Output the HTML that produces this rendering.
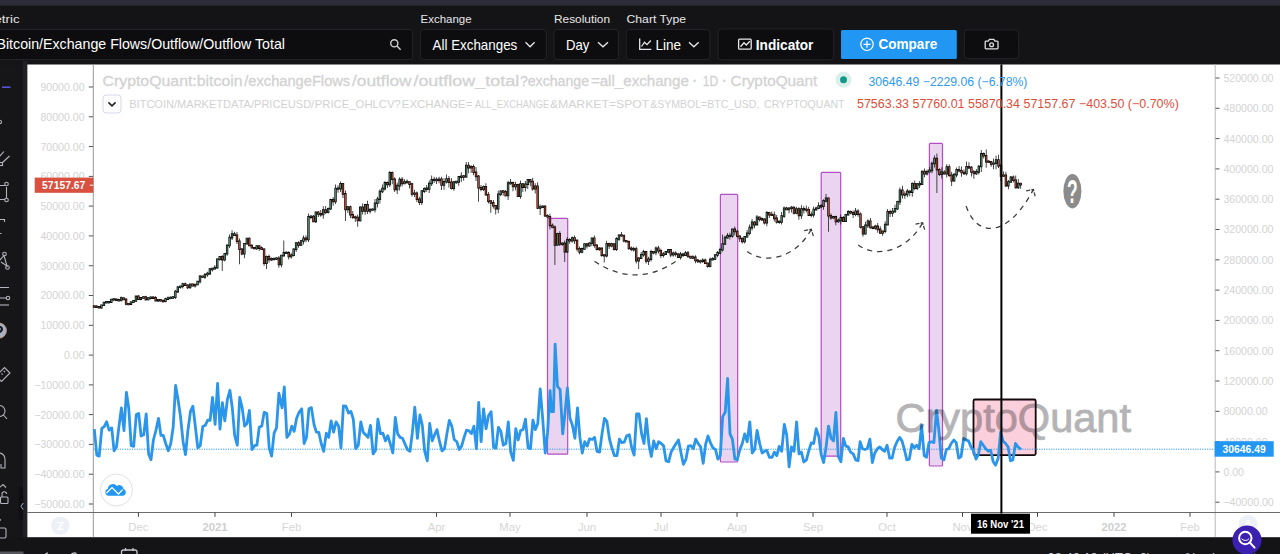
<!DOCTYPE html>
<html lang="en"><head><meta charset="utf-8"><title>CryptoQuant - Bitcoin Exchange Outflow Total</title>
<style>html,body{margin:0;padding:0;background:#141417;overflow:hidden}body{width:1280px;height:554px;font-family:"Liberation Sans", Arial, sans-serif}svg{display:block}</style>
</head><body>
<svg width="1280" height="554" viewBox="0 0 1280 554" font-family='"Liberation Sans", Arial, sans-serif'>
<rect x="0" y="0" width="1280" height="554" fill="#141417"/>
<rect x="0" y="0" width="1280" height="5.6" fill="#2c2d38"/>
<rect x="27.2" y="64.5" width="1253" height="473" fill="#ffffff"/>
<rect x="0" y="64.5" width="23" height="473" fill="#161618"/>
<rect x="23" y="61" width="4.2" height="493" fill="#202127"/>
<text x="-16.5" y="22.6" font-size="11.5" fill="#e6e6e8" textLength="36.0" lengthAdjust="spacingAndGlyphs" >Metric</text>
<text x="420.6" y="22.6" font-size="11.5" fill="#e6e6e8" textLength="51.0" lengthAdjust="spacingAndGlyphs" >Exchange</text>
<text x="554.0" y="22.6" font-size="11.5" fill="#e6e6e8" textLength="56.0" lengthAdjust="spacingAndGlyphs" >Resolution</text>
<text x="626.5" y="22.6" font-size="11.5" fill="#e6e6e8" textLength="59.5" lengthAdjust="spacingAndGlyphs" >Chart Type</text>
<rect x="-20" y="29.5" width="432.7" height="30.0" rx="3" fill="#0d0d10" stroke="#232329" stroke-width="1"/>
<rect x="420.4" y="29.5" width="125.89999999999998" height="30.0" rx="3" fill="#0d0d10" stroke="#232329" stroke-width="1"/>
<rect x="554" y="29.5" width="64.5" height="30.0" rx="3" fill="#0d0d10" stroke="#232329" stroke-width="1"/>
<rect x="626.2" y="29.5" width="83.69999999999993" height="30.0" rx="3" fill="#0d0d10" stroke="#232329" stroke-width="1"/>
<rect x="718" y="29" width="115.60000000000002" height="30.799999999999997" rx="3" fill="#0d0d10" stroke="#232329" stroke-width="1"/>
<rect x="841" y="30" width="115.8" height="29" rx="1.5" fill="#2196f3"/>
<rect x="964.3" y="30" width="54.40000000000009" height="28.6" rx="3" fill="#0d0d10" stroke="#232329" stroke-width="1"/>
<text x="-3.5" y="49.2" font-size="14.6" fill="#ffffff" textLength="288.5" lengthAdjust="spacingAndGlyphs" >Bitcoin/Exchange Flows/Outflow/Outflow Total</text>
<g stroke="#d0d0d4" stroke-width="1.4" fill="none"><circle cx="394.3" cy="43.3" r="3.6"/><path d="M397 46 L400.6 49.8"/></g>
<text x="432.6" y="49.6" font-size="15" fill="#ffffff" textLength="84.7" lengthAdjust="spacingAndGlyphs" >All Exchanges</text>
<path d="M525.5 42.2 L530.05 46.8 L534.6 42.2" stroke="#e8e8ea" stroke-width="1.3" fill="none"/>
<text x="565.9" y="49.6" font-size="15" fill="#ffffff" textLength="23.4" lengthAdjust="spacingAndGlyphs" >Day</text>
<path d="M598 42.2 L603.0 46.8 L608 42.2" stroke="#e8e8ea" stroke-width="1.3" fill="none"/>
<g stroke="#e8e8ea" stroke-width="1.3" fill="none"><path d="M639.7 38.5 V49.3 H651.3"/><path d="M641.5 46.5 L644.5 42.2 L647 44.6 L650.8 40.5"/></g>
<text x="655.4" y="49.6" font-size="15" fill="#ffffff" textLength="25.6" lengthAdjust="spacingAndGlyphs" >Line</text>
<path d="M689 42.2 L693.85 46.8 L698.7 42.2" stroke="#e8e8ea" stroke-width="1.3" fill="none"/>
<g stroke="#e8e8ea" stroke-width="1.3" fill="none"><rect x="738.6" y="39.2" width="12.6" height="10" rx="1"/><path d="M740.5 46.8 L744 42.8 L746.3 45 L749.8 41.2"/></g>
<text x="755.8" y="49.6" font-size="15" fill="#ffffff" font-weight="bold" textLength="57.6" lengthAdjust="spacingAndGlyphs" >Indicator</text>
<g stroke="#ffffff" stroke-width="1.2" fill="none"><circle cx="867" cy="44.3" r="6.2"/><path d="M863.5 44.3 H870.5 M867 40.8 V47.8"/></g>
<text x="878.5" y="49.4" font-size="15" fill="#ffffff" font-weight="bold" textLength="58.7" lengthAdjust="spacingAndGlyphs" >Compare</text>
<g stroke="#e0e0e4" stroke-width="1.3" fill="none"><path d="M986 41.2 h2.2 l1.2 -1.8 h4.4 l1.2 1.8 h2.2 a0.8 0.8 0 0 1 0.8 0.8 v6 a0.8 0.8 0 0 1 -0.8 0.8 h-11.2 a0.8 0.8 0 0 1 -0.8 -0.8 v-6 a0.8 0.8 0 0 1 0.8 -0.8 z"/><circle cx="991.6" cy="44.8" r="1.9"/></g>
<rect x="547.5" y="218.3" width="20.2" height="235.9" rx="1" fill="#ebd4ef" stroke="#b14fc3" stroke-width="1.2"/>
<rect x="720.4" y="194.4" width="17.3" height="267.6" rx="1" fill="#ebd4ef" stroke="#b14fc3" stroke-width="1.2"/>
<rect x="821.2" y="172.3" width="19.5" height="283.8" rx="1" fill="#ebd4ef" stroke="#b14fc3" stroke-width="1.2"/>
<rect x="929.4" y="143.4" width="13.1" height="322.6" rx="1" fill="#ebd4ef" stroke="#b14fc3" stroke-width="1.2"/>
<rect x="973.5" y="399.5" width="62.2" height="55.6" rx="1.5" fill="#fbd0dc" stroke="#140a0e" stroke-width="1.8"/>
<rect x="92.8" y="64.5" width="1" height="473" fill="#9a9a9a"/>
<rect x="1214.7" y="64.5" width="1" height="473" fill="#b8b8b8"/>
<rect x="27.2" y="512" width="1253" height="1" fill="#6a6a6a"/>
<text x="84.6" y="90.9" font-size="10.6" fill="#d4d4d4" text-anchor="end" >90000.00</text>
<rect x="88.8" y="86.5" width="4.2" height="1" fill="#555"/>
<text x="84.6" y="120.7" font-size="10.6" fill="#d4d4d4" text-anchor="end" >80000.00</text>
<rect x="88.8" y="116.3" width="4.2" height="1" fill="#555"/>
<text x="84.6" y="150.5" font-size="10.6" fill="#d4d4d4" text-anchor="end" >70000.00</text>
<rect x="88.8" y="146.1" width="4.2" height="1" fill="#555"/>
<text x="84.6" y="180.3" font-size="10.6" fill="#d4d4d4" text-anchor="end" >60000.00</text>
<rect x="88.8" y="175.9" width="4.2" height="1" fill="#555"/>
<text x="84.6" y="210.0" font-size="10.6" fill="#d4d4d4" text-anchor="end" >50000.00</text>
<rect x="88.8" y="205.6" width="4.2" height="1" fill="#555"/>
<text x="84.6" y="239.8" font-size="10.6" fill="#d4d4d4" text-anchor="end" >40000.00</text>
<rect x="88.8" y="235.4" width="4.2" height="1" fill="#555"/>
<text x="84.6" y="269.6" font-size="10.6" fill="#d4d4d4" text-anchor="end" >30000.00</text>
<rect x="88.8" y="265.2" width="4.2" height="1" fill="#555"/>
<text x="84.6" y="299.4" font-size="10.6" fill="#d4d4d4" text-anchor="end" >20000.00</text>
<rect x="88.8" y="295.0" width="4.2" height="1" fill="#555"/>
<text x="84.6" y="329.2" font-size="10.6" fill="#d4d4d4" text-anchor="end" >10000.00</text>
<rect x="88.8" y="324.8" width="4.2" height="1" fill="#555"/>
<text x="84.6" y="359.0" font-size="10.6" fill="#d4d4d4" text-anchor="end" >0.00</text>
<rect x="88.8" y="354.6" width="4.2" height="1" fill="#555"/>
<text x="84.6" y="388.8" font-size="10.6" fill="#d4d4d4" text-anchor="end" >−10000.00</text>
<rect x="88.8" y="384.4" width="4.2" height="1" fill="#555"/>
<text x="84.6" y="418.5" font-size="10.6" fill="#d4d4d4" text-anchor="end" >−20000.00</text>
<rect x="88.8" y="414.1" width="4.2" height="1" fill="#555"/>
<text x="84.6" y="448.3" font-size="10.6" fill="#d4d4d4" text-anchor="end" >−30000.00</text>
<rect x="88.8" y="443.9" width="4.2" height="1" fill="#555"/>
<text x="84.6" y="478.1" font-size="10.6" fill="#d4d4d4" text-anchor="end" >−40000.00</text>
<rect x="88.8" y="473.7" width="4.2" height="1" fill="#555"/>
<text x="84.6" y="507.9" font-size="10.6" fill="#d4d4d4" text-anchor="end" >−50000.00</text>
<rect x="88.8" y="503.5" width="4.2" height="1" fill="#555"/>
<text x="1223.4" y="81.9" font-size="10.6" fill="#d4d4d4" >520000.00</text>
<rect x="1215.5" y="77.5" width="4" height="1" fill="#555"/>
<text x="1223.4" y="112.2" font-size="10.6" fill="#d4d4d4" >480000.00</text>
<rect x="1215.5" y="107.8" width="4" height="1" fill="#555"/>
<text x="1223.4" y="142.5" font-size="10.6" fill="#d4d4d4" >440000.00</text>
<rect x="1215.5" y="138.1" width="4" height="1" fill="#555"/>
<text x="1223.4" y="172.8" font-size="10.6" fill="#d4d4d4" >400000.00</text>
<rect x="1215.5" y="168.4" width="4" height="1" fill="#555"/>
<text x="1223.4" y="203.1" font-size="10.6" fill="#d4d4d4" >360000.00</text>
<rect x="1215.5" y="198.7" width="4" height="1" fill="#555"/>
<text x="1223.4" y="233.4" font-size="10.6" fill="#d4d4d4" >320000.00</text>
<rect x="1215.5" y="229.0" width="4" height="1" fill="#555"/>
<text x="1223.4" y="263.7" font-size="10.6" fill="#d4d4d4" >280000.00</text>
<rect x="1215.5" y="259.3" width="4" height="1" fill="#555"/>
<text x="1223.4" y="294.0" font-size="10.6" fill="#d4d4d4" >240000.00</text>
<rect x="1215.5" y="289.6" width="4" height="1" fill="#555"/>
<text x="1223.4" y="324.3" font-size="10.6" fill="#d4d4d4" >200000.00</text>
<rect x="1215.5" y="319.9" width="4" height="1" fill="#555"/>
<text x="1223.4" y="354.6" font-size="10.6" fill="#d4d4d4" >160000.00</text>
<rect x="1215.5" y="350.2" width="4" height="1" fill="#555"/>
<text x="1223.4" y="384.9" font-size="10.6" fill="#d4d4d4" >120000.00</text>
<rect x="1215.5" y="380.5" width="4" height="1" fill="#555"/>
<text x="1223.4" y="415.2" font-size="10.6" fill="#d4d4d4" >80000.00</text>
<rect x="1215.5" y="410.8" width="4" height="1" fill="#555"/>
<text x="1223.4" y="445.5" font-size="10.6" fill="#d4d4d4" >40000.00</text>
<rect x="1215.5" y="441.1" width="4" height="1" fill="#555"/>
<text x="1223.4" y="475.8" font-size="10.6" fill="#d4d4d4" >0.00</text>
<rect x="1215.5" y="471.4" width="4" height="1" fill="#555"/>
<text x="1223.4" y="506.1" font-size="10.6" fill="#d4d4d4" >−40000.00</text>
<rect x="1215.5" y="501.7" width="4" height="1" fill="#555"/>
<rect x="137.9" y="512.5" width="1" height="4.3" fill="#444"/>
<text x="138.4" y="530.6" font-size="11.3" fill="#d6d6d6" text-anchor="middle" >Dec</text>
<rect x="214.5" y="512.5" width="1" height="4.3" fill="#444"/>
<text x="215.0" y="530.6" font-size="11.3" fill="#cfcfcf" text-anchor="middle" font-weight="bold" >2021</text>
<rect x="291.0" y="512.5" width="1" height="4.3" fill="#444"/>
<text x="291.5" y="530.6" font-size="11.3" fill="#d6d6d6" text-anchor="middle" >Feb</text>
<rect x="436.0" y="512.5" width="1" height="4.3" fill="#444"/>
<text x="436.5" y="530.6" font-size="11.3" fill="#d6d6d6" text-anchor="middle" >Apr</text>
<rect x="509.5" y="512.5" width="1" height="4.3" fill="#444"/>
<text x="510.0" y="530.6" font-size="11.3" fill="#d6d6d6" text-anchor="middle" >May</text>
<rect x="586.5" y="512.5" width="1" height="4.3" fill="#444"/>
<text x="587.0" y="530.6" font-size="11.3" fill="#d6d6d6" text-anchor="middle" >Jun</text>
<rect x="660.5" y="512.5" width="1" height="4.3" fill="#444"/>
<text x="661.0" y="530.6" font-size="11.3" fill="#d6d6d6" text-anchor="middle" >Jul</text>
<rect x="736.5" y="512.5" width="1" height="4.3" fill="#444"/>
<text x="737.0" y="530.6" font-size="11.3" fill="#d6d6d6" text-anchor="middle" >Aug</text>
<rect x="812.5" y="512.5" width="1" height="4.3" fill="#444"/>
<text x="813.0" y="530.6" font-size="11.3" fill="#d6d6d6" text-anchor="middle" >Sep</text>
<rect x="886.5" y="512.5" width="1" height="4.3" fill="#444"/>
<text x="887.0" y="530.6" font-size="11.3" fill="#d6d6d6" text-anchor="middle" >Oct</text>
<rect x="962.0" y="512.5" width="1" height="4.3" fill="#444"/>
<text x="962.5" y="530.6" font-size="11.3" fill="#d6d6d6" text-anchor="middle" >Nov</text>
<rect x="1037.0" y="512.5" width="1" height="4.3" fill="#444"/>
<text x="1037.5" y="530.6" font-size="11.3" fill="#d6d6d6" text-anchor="middle" >Dec</text>
<rect x="1113.5" y="512.5" width="1" height="4.3" fill="#444"/>
<text x="1114.0" y="530.6" font-size="11.3" fill="#cfcfcf" text-anchor="middle" font-weight="bold" >2022</text>
<rect x="1189.5" y="512.5" width="1" height="4.3" fill="#444"/>
<text x="1190.0" y="530.6" font-size="11.3" fill="#d6d6d6" text-anchor="middle" >Feb</text>
<path d="M93.64 305.9h0.8V306.9h-0.8ZM96.10 305.6h0.8V307.4h-0.8ZM98.57 306.3h0.8V308.2h-0.8ZM101.03 305.1h0.8V308.4h-0.8ZM103.50 302.3h0.8V306.1h-0.8ZM105.96 301.8h0.8V302.8h-0.8ZM108.43 301.3h0.8V303.4h-0.8ZM110.89 299.2h0.8V302.5h-0.8ZM113.35 298.3h0.8V301.2h-0.8ZM115.82 298.4h0.8V301.0h-0.8ZM118.28 298.8h0.8V300.6h-0.8ZM120.75 296.6h0.8V301.0h-0.8ZM123.21 297.7h0.8V299.7h-0.8ZM125.68 298.8h0.8V305.3h-0.8ZM128.14 303.6h0.8V305.1h-0.8ZM130.61 301.3h0.8V304.8h-0.8ZM133.07 300.0h0.8V302.6h-0.8ZM135.54 296.1h0.8V301.3h-0.8ZM138.00 295.2h0.8V299.9h-0.8ZM140.46 297.3h0.8V300.2h-0.8ZM142.93 296.3h0.8V298.5h-0.8ZM145.39 295.8h0.8V300.8h-0.8ZM147.86 297.5h0.8V300.6h-0.8ZM150.32 296.5h0.8V299.6h-0.8ZM152.79 296.2h0.8V298.5h-0.8ZM155.25 296.3h0.8V300.9h-0.8ZM157.72 299.1h0.8V301.9h-0.8ZM160.18 299.4h0.8V301.6h-0.8ZM162.65 300.5h0.8V302.5h-0.8ZM165.11 297.8h0.8V302.3h-0.8ZM167.57 296.6h0.8V299.7h-0.8ZM170.04 296.6h0.8V299.2h-0.8ZM172.50 296.3h0.8V298.6h-0.8ZM174.97 290.1h0.8V299.0h-0.8ZM177.43 286.1h0.8V293.0h-0.8ZM179.90 286.0h0.8V288.7h-0.8ZM182.36 282.7h0.8V288.4h-0.8ZM184.83 282.4h0.8V286.0h-0.8ZM187.29 284.3h0.8V288.9h-0.8ZM189.75 283.9h0.8V288.5h-0.8ZM192.22 283.7h0.8V286.3h-0.8ZM194.68 284.2h0.8V287.5h-0.8ZM197.15 281.0h0.8V285.2h-0.8ZM199.61 275.3h0.8V283.5h-0.8ZM202.08 275.9h0.8V278.1h-0.8ZM204.54 273.2h0.8V279.1h-0.8ZM207.01 271.7h0.8V276.7h-0.8ZM209.47 268.3h0.8V274.8h-0.8ZM211.94 267.8h0.8V271.5h-0.8ZM214.40 265.3h0.8V269.5h-0.8ZM216.86 258.4h0.8V268.5h-0.8ZM219.33 255.9h0.8V260.7h-0.8ZM221.79 255.0h0.8V271.1h-0.8ZM224.26 253.5h0.8V261.2h-0.8ZM226.72 244.1h0.8V255.7h-0.8ZM229.19 234.4h0.8V247.9h-0.8ZM231.65 230.3h0.8V239.9h-0.8ZM234.12 231.7h0.8V235.7h-0.8ZM236.58 232.1h0.8V244.1h-0.8ZM239.04 238.5h0.8V264.2h-0.8ZM241.51 248.0h0.8V255.2h-0.8ZM243.97 243.0h0.8V258.3h-0.8ZM246.44 237.9h0.8V244.2h-0.8ZM248.90 237.5h0.8V246.3h-0.8ZM251.37 244.2h0.8V248.3h-0.8ZM253.83 247.5h0.8V249.2h-0.8ZM256.30 245.4h0.8V249.8h-0.8ZM258.76 245.7h0.8V251.1h-0.8ZM261.23 246.2h0.8V250.1h-0.8ZM263.69 248.3h0.8V265.7h-0.8ZM266.15 255.6h0.8V269.0h-0.8ZM268.62 254.4h0.8V262.4h-0.8ZM271.08 257.6h0.8V261.0h-0.8ZM273.55 258.5h0.8V259.6h-0.8ZM276.01 257.1h0.8V260.0h-0.8ZM278.48 256.0h0.8V267.8h-0.8ZM280.94 255.2h0.8V267.2h-0.8ZM283.41 240.4h0.8V256.3h-0.8ZM285.87 251.2h0.8V253.3h-0.8ZM288.33 251.2h0.8V259.5h-0.8ZM290.80 252.8h0.8V258.7h-0.8ZM293.26 248.3h0.8V256.6h-0.8ZM295.73 242.3h0.8V251.9h-0.8ZM298.19 241.2h0.8V247.7h-0.8ZM300.66 239.7h0.8V246.0h-0.8ZM303.12 235.4h0.8V244.5h-0.8ZM305.59 235.3h0.8V242.3h-0.8ZM308.05 213.6h0.8V241.9h-0.8ZM310.52 215.4h0.8V219.3h-0.8ZM312.98 214.9h0.8V222.0h-0.8ZM315.44 211.7h0.8V222.9h-0.8ZM317.91 210.9h0.8V217.0h-0.8ZM320.37 210.1h0.8V216.7h-0.8ZM322.84 206.2h0.8V218.8h-0.8ZM325.30 206.1h0.8V214.1h-0.8ZM327.77 207.4h0.8V213.6h-0.8ZM330.23 198.7h0.8V209.9h-0.8ZM332.70 197.0h0.8V205.7h-0.8ZM335.16 184.6h0.8V203.9h-0.8ZM337.62 185.3h0.8V192.8h-0.8ZM340.09 181.4h0.8V192.1h-0.8ZM342.55 183.8h0.8V197.9h-0.8ZM345.02 190.4h0.8V221.0h-0.8ZM347.48 205.9h0.8V213.1h-0.8ZM349.95 205.4h0.8V218.3h-0.8ZM352.41 210.9h0.8V219.1h-0.8ZM354.88 215.4h0.8V221.7h-0.8ZM357.34 214.7h0.8V226.7h-0.8ZM359.81 206.4h0.8V221.4h-0.8ZM362.27 203.5h0.8V214.6h-0.8ZM364.73 203.9h0.8V214.7h-0.8ZM367.20 200.8h0.8V214.0h-0.8ZM369.66 208.0h0.8V213.6h-0.8ZM372.13 208.5h0.8V210.2h-0.8ZM374.59 199.0h0.8V212.5h-0.8ZM377.06 196.8h0.8V207.6h-0.8ZM379.52 189.3h0.8V203.6h-0.8ZM381.99 184.6h0.8V193.0h-0.8ZM384.45 181.3h0.8V190.4h-0.8ZM386.91 181.4h0.8V187.9h-0.8ZM389.38 171.0h0.8V187.1h-0.8ZM391.84 171.6h0.8V184.3h-0.8ZM394.31 177.3h0.8V192.1h-0.8ZM396.77 182.6h0.8V194.1h-0.8ZM399.24 177.3h0.8V190.5h-0.8ZM401.70 176.9h0.8V186.4h-0.8ZM404.17 179.2h0.8V184.0h-0.8ZM406.63 179.6h0.8V183.4h-0.8ZM409.10 181.5h0.8V188.4h-0.8ZM411.56 182.8h0.8V196.5h-0.8ZM414.02 189.8h0.8V196.9h-0.8ZM416.49 191.4h0.8V202.0h-0.8ZM418.95 196.7h0.8V204.9h-0.8ZM421.42 190.2h0.8V205.1h-0.8ZM423.88 187.2h0.8V192.9h-0.8ZM426.35 185.0h0.8V191.7h-0.8ZM428.81 180.6h0.8V192.9h-0.8ZM431.28 175.4h0.8V186.1h-0.8ZM433.74 176.7h0.8V182.9h-0.8ZM436.20 177.2h0.8V184.0h-0.8ZM438.67 176.8h0.8V183.2h-0.8ZM441.13 176.7h0.8V190.0h-0.8ZM443.60 178.2h0.8V189.7h-0.8ZM446.06 174.4h0.8V183.5h-0.8ZM448.53 176.0h0.8V187.4h-0.8ZM450.99 178.2h0.8V189.4h-0.8ZM453.46 181.0h0.8V190.8h-0.8ZM455.92 181.2h0.8V183.7h-0.8ZM458.38 176.1h0.8V185.8h-0.8ZM460.85 172.3h0.8V182.0h-0.8ZM463.31 175.1h0.8V180.8h-0.8ZM465.78 161.9h0.8V177.9h-0.8ZM468.24 162.1h0.8V173.2h-0.8ZM470.71 165.2h0.8V173.1h-0.8ZM473.17 164.4h0.8V175.2h-0.8ZM475.64 167.1h0.8V181.1h-0.8ZM478.10 175.1h0.8V201.7h-0.8ZM480.57 185.0h0.8V191.2h-0.8ZM483.03 185.5h0.8V191.1h-0.8ZM485.49 183.2h0.8V195.4h-0.8ZM487.96 192.1h0.8V203.4h-0.8ZM490.42 200.5h0.8V212.7h-0.8ZM492.89 200.0h0.8V208.4h-0.8ZM495.35 205.2h0.8V214.5h-0.8ZM497.82 190.6h0.8V213.2h-0.8ZM500.28 190.3h0.8V195.9h-0.8ZM502.75 190.6h0.8V195.7h-0.8ZM505.21 190.1h0.8V196.5h-0.8ZM507.68 180.7h0.8V200.0h-0.8ZM510.14 178.9h0.8V184.8h-0.8ZM512.60 181.7h0.8V191.3h-0.8ZM515.07 181.8h0.8V190.3h-0.8ZM517.53 183.8h0.8V197.0h-0.8ZM520.00 180.6h0.8V198.7h-0.8ZM522.46 183.3h0.8V192.0h-0.8ZM524.93 181.0h0.8V191.4h-0.8ZM527.39 179.0h0.8V188.9h-0.8ZM529.86 179.1h0.8V186.3h-0.8ZM532.32 177.8h0.8V190.8h-0.8ZM534.78 183.3h0.8V193.5h-0.8ZM537.25 182.3h0.8V208.9h-0.8ZM539.71 204.6h0.8V215.1h-0.8ZM542.18 205.6h0.8V208.1h-0.8ZM544.64 205.8h0.8V217.0h-0.8ZM547.11 214.3h0.8V218.3h-0.8ZM549.57 213.7h0.8V229.4h-0.8ZM552.04 223.5h0.8V228.3h-0.8ZM554.50 225.5h0.8V265.1h-0.8ZM556.97 232.7h0.8V245.2h-0.8ZM559.43 231.3h0.8V246.0h-0.8ZM561.89 242.5h0.8V245.8h-0.8ZM564.36 240.4h0.8V262.1h-0.8ZM566.82 237.1h0.8V253.1h-0.8ZM569.29 238.0h0.8V243.7h-0.8ZM571.75 236.5h0.8V242.7h-0.8ZM574.22 235.6h0.8V244.0h-0.8ZM576.68 239.2h0.8V251.5h-0.8ZM579.15 246.5h0.8V254.2h-0.8ZM581.61 247.5h0.8V253.3h-0.8ZM584.07 243.5h0.8V249.6h-0.8ZM586.54 243.4h0.8V248.4h-0.8ZM589.00 242.2h0.8V246.6h-0.8ZM591.47 237.7h0.8V246.2h-0.8ZM593.93 235.4h0.8V247.7h-0.8ZM596.40 244.2h0.8V250.4h-0.8ZM598.86 247.3h0.8V251.0h-0.8ZM601.33 247.7h0.8V256.7h-0.8ZM603.79 254.2h0.8V262.4h-0.8ZM606.26 240.8h0.8V257.4h-0.8ZM608.72 242.8h0.8V249.0h-0.8ZM611.18 242.8h0.8V247.2h-0.8ZM613.65 243.6h0.8V250.6h-0.8ZM616.11 237.2h0.8V251.0h-0.8ZM618.58 234.4h0.8V240.9h-0.8ZM621.04 232.1h0.8V236.7h-0.8ZM623.51 234.9h0.8V242.5h-0.8ZM625.97 240.4h0.8V242.1h-0.8ZM628.44 240.5h0.8V249.5h-0.8ZM630.90 246.6h0.8V251.2h-0.8ZM633.36 246.7h0.8V251.6h-0.8ZM635.83 246.8h0.8V263.4h-0.8ZM638.29 257.0h0.8V269.0h-0.8ZM640.76 251.9h0.8V259.0h-0.8ZM643.22 249.7h0.8V256.8h-0.8ZM645.69 251.4h0.8V263.4h-0.8ZM648.15 256.7h0.8V265.1h-0.8ZM650.62 249.7h0.8V261.6h-0.8ZM653.08 251.2h0.8V254.3h-0.8ZM655.55 246.6h0.8V255.2h-0.8ZM658.01 245.8h0.8V253.4h-0.8ZM660.47 248.8h0.8V257.9h-0.8ZM662.94 252.1h0.8V257.4h-0.8ZM665.40 251.0h0.8V254.5h-0.8ZM667.87 249.3h0.8V253.2h-0.8ZM670.33 249.3h0.8V257.3h-0.8ZM672.80 251.5h0.8V256.8h-0.8ZM675.26 251.3h0.8V256.5h-0.8ZM677.73 252.7h0.8V257.5h-0.8ZM680.19 252.1h0.8V259.6h-0.8ZM682.65 252.8h0.8V257.1h-0.8ZM685.12 251.1h0.8V255.8h-0.8ZM687.58 250.9h0.8V257.5h-0.8ZM690.05 256.0h0.8V258.7h-0.8ZM692.51 255.3h0.8V258.5h-0.8ZM694.98 255.3h0.8V263.2h-0.8ZM697.44 258.9h0.8V262.8h-0.8ZM699.91 259.8h0.8V263.6h-0.8ZM702.37 258.3h0.8V263.1h-0.8ZM704.84 258.5h0.8V263.8h-0.8ZM707.30 262.7h0.8V267.8h-0.8ZM709.76 257.4h0.8V267.3h-0.8ZM712.23 257.2h0.8V259.8h-0.8ZM714.69 254.5h0.8V259.9h-0.8ZM717.16 250.9h0.8V257.2h-0.8ZM719.62 247.7h0.8V254.0h-0.8ZM722.09 234.4h0.8V251.5h-0.8ZM724.55 235.8h0.8V244.7h-0.8ZM727.02 232.9h0.8V238.6h-0.8ZM729.48 232.7h0.8V239.4h-0.8ZM731.94 228.9h0.8V237.8h-0.8ZM734.41 226.4h0.8V235.2h-0.8ZM736.87 229.7h0.8V237.5h-0.8ZM739.34 235.2h0.8V241.9h-0.8ZM741.80 237.5h0.8V243.6h-0.8ZM744.27 235.9h0.8V243.4h-0.8ZM746.73 230.0h0.8V237.5h-0.8ZM749.20 224.6h0.8V235.3h-0.8ZM751.66 218.9h0.8V230.5h-0.8ZM754.12 221.1h0.8V228.3h-0.8ZM756.59 215.1h0.8V225.1h-0.8ZM759.05 216.7h0.8V221.5h-0.8ZM761.52 217.3h0.8V220.9h-0.8ZM763.98 218.5h0.8V224.5h-0.8ZM766.45 211.1h0.8V226.3h-0.8ZM768.91 212.3h0.8V218.1h-0.8ZM771.38 211.4h0.8V216.0h-0.8ZM773.84 211.4h0.8V221.5h-0.8ZM776.31 214.9h0.8V223.4h-0.8ZM778.77 220.3h0.8V223.8h-0.8ZM781.23 212.1h0.8V224.5h-0.8ZM783.70 206.5h0.8V218.1h-0.8ZM786.16 206.8h0.8V210.1h-0.8ZM788.63 207.4h0.8V213.3h-0.8ZM791.09 206.1h0.8V212.5h-0.8ZM793.56 206.3h0.8V214.5h-0.8ZM796.02 206.8h0.8V214.2h-0.8ZM798.49 207.3h0.8V219.7h-0.8ZM800.95 205.3h0.8V219.1h-0.8ZM803.42 206.2h0.8V213.6h-0.8ZM805.88 205.6h0.8V212.4h-0.8ZM808.34 206.7h0.8V215.7h-0.8ZM810.81 211.6h0.8V217.3h-0.8ZM813.27 206.4h0.8V217.6h-0.8ZM815.74 206.7h0.8V210.2h-0.8ZM818.20 202.2h0.8V209.2h-0.8ZM820.67 203.9h0.8V208.2h-0.8ZM823.13 199.3h0.8V209.8h-0.8ZM825.60 193.9h0.8V202.5h-0.8ZM828.06 197.5h0.8V231.8h-0.8ZM830.52 213.3h0.8V219.7h-0.8ZM832.99 215.9h0.8V218.8h-0.8ZM835.45 215.7h0.8V225.3h-0.8ZM837.92 218.4h0.8V222.7h-0.8ZM840.38 214.4h0.8V224.6h-0.8ZM842.85 216.0h0.8V222.1h-0.8ZM845.31 213.7h0.8V221.9h-0.8ZM847.78 210.0h0.8V215.6h-0.8ZM850.24 210.4h0.8V214.3h-0.8ZM852.71 210.4h0.8V218.1h-0.8ZM855.17 208.1h0.8V216.2h-0.8ZM857.63 209.3h0.8V216.8h-0.8ZM860.10 212.6h0.8V228.6h-0.8ZM862.56 226.4h0.8V236.8h-0.8ZM865.03 221.8h0.8V234.6h-0.8ZM867.49 219.2h0.8V228.0h-0.8ZM869.96 218.0h0.8V228.6h-0.8ZM872.42 226.2h0.8V229.2h-0.8ZM874.89 224.7h0.8V229.9h-0.8ZM877.35 222.9h0.8V232.7h-0.8ZM879.81 226.3h0.8V233.4h-0.8ZM882.28 230.8h0.8V235.7h-0.8ZM884.74 221.3h0.8V233.3h-0.8ZM887.21 209.1h0.8V225.0h-0.8ZM889.67 209.8h0.8V217.1h-0.8ZM892.14 208.1h0.8V216.8h-0.8ZM894.60 204.8h0.8V212.9h-0.8ZM897.07 200.8h0.8V209.9h-0.8ZM899.53 187.6h0.8V205.1h-0.8ZM902.00 185.8h0.8V198.5h-0.8ZM904.46 191.3h0.8V198.7h-0.8ZM906.92 189.0h0.8V197.3h-0.8ZM909.39 190.7h0.8V196.2h-0.8ZM911.85 182.3h0.8V196.8h-0.8ZM914.32 180.5h0.8V190.2h-0.8ZM916.78 183.0h0.8V189.9h-0.8ZM919.25 180.9h0.8V188.1h-0.8ZM921.71 170.5h0.8V185.1h-0.8ZM924.18 168.6h0.8V177.2h-0.8ZM926.64 169.4h0.8V175.4h-0.8ZM929.10 167.1h0.8V172.3h-0.8ZM931.57 161.5h0.8V173.3h-0.8ZM934.03 155.5h0.8V167.6h-0.8ZM936.50 153.5h0.8V193.0h-0.8ZM938.96 168.2h0.8V176.1h-0.8ZM941.43 167.2h0.8V178.4h-0.8ZM943.89 170.2h0.8V174.3h-0.8ZM946.36 164.2h0.8V177.6h-0.8ZM948.82 164.6h0.8V177.1h-0.8ZM951.29 171.8h0.8V185.9h-0.8ZM953.75 173.0h0.8V181.5h-0.8ZM956.21 167.5h0.8V177.2h-0.8ZM958.68 165.9h0.8V172.3h-0.8ZM961.14 166.5h0.8V176.8h-0.8ZM963.61 169.6h0.8V175.0h-0.8ZM966.07 161.5h0.8V175.5h-0.8ZM968.54 162.2h0.8V169.3h-0.8ZM971.00 166.0h0.8V176.5h-0.8ZM973.47 170.1h0.8V178.8h-0.8ZM975.93 169.1h0.8V174.9h-0.8ZM978.39 164.9h0.8V174.6h-0.8ZM980.86 149.9h0.8V172.1h-0.8ZM983.32 152.5h0.8V158.4h-0.8ZM985.79 149.5h0.8V167.7h-0.8ZM988.25 160.5h0.8V162.6h-0.8ZM990.72 160.9h0.8V166.7h-0.8ZM993.18 158.4h0.8V169.3h-0.8ZM995.65 155.8h0.8V169.2h-0.8ZM998.11 154.8h0.8V167.9h-0.8ZM1000.58 164.2h0.8V181.1h-0.8ZM1003.04 171.4h0.8V176.6h-0.8ZM1005.50 171.8h0.8V186.8h-0.8ZM1007.97 179.9h0.8V189.2h-0.8ZM1010.43 176.0h0.8V182.5h-0.8ZM1012.90 175.5h0.8V182.5h-0.8ZM1015.36 175.5h0.8V188.5h-0.8ZM1017.83 179.0h0.8V188.9h-0.8ZM1020.29 183.0h0.8V188.7h-0.8Z" fill="#1c1c1c"/>
<path d="M92.84 305.3h2.4V307.7h-2.4ZM95.30 305.6h2.4V308.0h-2.4ZM97.77 306.1h2.4V308.5h-2.4ZM100.23 304.5h2.4V308.4h-2.4ZM102.70 301.7h2.4V306.1h-2.4ZM105.16 301.1h2.4V303.5h-2.4ZM107.63 300.9h2.4V303.3h-2.4ZM110.09 298.7h2.4V302.9h-2.4ZM112.55 298.2h2.4V300.6h-2.4ZM115.02 298.6h2.4V301.1h-2.4ZM117.48 299.1h2.4V301.5h-2.4ZM119.95 297.2h2.4V301.2h-2.4ZM122.41 297.2h2.4V300.2h-2.4ZM124.88 298.6h2.4V304.8h-2.4ZM127.34 302.9h2.4V305.3h-2.4ZM129.81 301.5h2.4V304.9h-2.4ZM132.27 300.1h2.4V303.1h-2.4ZM134.74 295.6h2.4V301.7h-2.4ZM137.20 295.6h2.4V299.9h-2.4ZM139.66 297.1h2.4V299.9h-2.4ZM142.13 296.3h2.4V298.7h-2.4ZM144.59 296.3h2.4V300.3h-2.4ZM147.06 297.2h2.4V300.3h-2.4ZM149.52 296.5h2.4V298.9h-2.4ZM151.99 296.5h2.4V298.9h-2.4ZM154.45 297.1h2.4V301.4h-2.4ZM156.92 299.0h2.4V301.4h-2.4ZM159.38 299.0h2.4V301.5h-2.4ZM161.85 299.8h2.4V302.2h-2.4ZM164.31 298.3h2.4V302.1h-2.4ZM166.77 297.2h2.4V299.9h-2.4ZM169.24 296.7h2.4V299.1h-2.4ZM171.70 296.3h2.4V298.7h-2.4ZM174.17 290.8h2.4V298.1h-2.4ZM176.63 286.4h2.4V292.4h-2.4ZM179.10 285.5h2.4V288.0h-2.4ZM181.56 283.2h2.4V287.1h-2.4ZM184.03 283.2h2.4V286.0h-2.4ZM186.49 284.4h2.4V288.3h-2.4ZM188.95 283.4h2.4V288.3h-2.4ZM191.42 283.4h2.4V286.6h-2.4ZM193.88 283.7h2.4V286.6h-2.4ZM196.35 280.7h2.4V285.3h-2.4ZM198.81 275.5h2.4V282.3h-2.4ZM201.28 275.4h2.4V277.8h-2.4ZM203.74 273.7h2.4V277.7h-2.4ZM206.21 272.8h2.4V275.3h-2.4ZM208.67 268.3h2.4V274.4h-2.4ZM211.14 267.8h2.4V270.2h-2.4ZM213.60 266.8h2.4V269.6h-2.4ZM216.06 258.4h2.4V268.4h-2.4ZM218.53 256.0h2.4V260.0h-2.4ZM220.99 256.0h2.4V260.6h-2.4ZM223.46 253.0h2.4V260.6h-2.4ZM225.92 244.7h2.4V254.6h-2.4ZM228.39 236.8h2.4V246.3h-2.4ZM230.85 233.3h2.4V238.4h-2.4ZM233.32 233.3h2.4V236.0h-2.4ZM235.78 234.4h2.4V242.1h-2.4ZM238.24 240.5h2.4V250.1h-2.4ZM240.71 248.5h2.4V254.6h-2.4ZM243.17 242.9h2.4V254.6h-2.4ZM245.64 237.7h2.4V244.5h-2.4ZM248.10 237.7h2.4V246.3h-2.4ZM250.57 244.7h2.4V248.6h-2.4ZM253.03 246.9h2.4V249.3h-2.4ZM255.50 245.3h2.4V249.2h-2.4ZM257.96 245.3h2.4V248.9h-2.4ZM260.43 247.3h2.4V250.1h-2.4ZM262.89 248.5h2.4V264.1h-2.4ZM265.35 256.0h2.4V264.1h-2.4ZM267.82 256.0h2.4V260.3h-2.4ZM270.28 258.0h2.4V260.4h-2.4ZM272.75 257.8h2.4V260.2h-2.4ZM275.21 257.4h2.4V259.8h-2.4ZM277.68 257.5h2.4V265.3h-2.4ZM280.14 254.8h2.4V265.3h-2.4ZM282.61 252.1h2.4V256.4h-2.4ZM285.07 251.7h2.4V254.1h-2.4ZM287.53 252.1h2.4V257.3h-2.4ZM290.00 254.5h2.4V257.3h-2.4ZM292.46 248.5h2.4V256.1h-2.4ZM294.93 242.3h2.4V250.1h-2.4ZM297.39 242.3h2.4V245.8h-2.4ZM299.86 240.2h2.4V245.8h-2.4ZM302.32 237.4h2.4V241.8h-2.4ZM304.79 237.4h2.4V240.2h-2.4ZM307.25 216.1h2.4V240.2h-2.4ZM309.72 215.5h2.4V217.9h-2.4ZM312.18 215.8h2.4V222.3h-2.4ZM314.64 211.4h2.4V222.3h-2.4ZM317.11 211.4h2.4V214.7h-2.4ZM319.57 213.0h2.4V215.4h-2.4ZM322.04 209.2h2.4V215.3h-2.4ZM324.50 209.2h2.4V213.0h-2.4ZM326.97 207.9h2.4V213.0h-2.4ZM329.43 199.1h2.4V209.5h-2.4ZM331.90 199.1h2.4V202.2h-2.4ZM334.36 187.8h2.4V202.2h-2.4ZM336.82 187.4h2.4V189.8h-2.4ZM339.29 183.0h2.4V189.4h-2.4ZM341.75 183.0h2.4V194.7h-2.4ZM344.22 193.1h2.4V210.2h-2.4ZM346.68 206.2h2.4V210.2h-2.4ZM349.15 206.2h2.4V215.6h-2.4ZM351.61 214.0h2.4V218.0h-2.4ZM354.08 216.2h2.4V218.6h-2.4ZM356.54 216.8h2.4V221.2h-2.4ZM359.01 206.5h2.4V221.2h-2.4ZM361.47 206.5h2.4V211.7h-2.4ZM363.93 204.1h2.4V211.7h-2.4ZM366.40 204.1h2.4V211.7h-2.4ZM368.86 208.9h2.4V211.7h-2.4ZM371.33 208.4h2.4V210.8h-2.4ZM373.79 202.4h2.4V210.2h-2.4ZM376.26 198.5h2.4V204.0h-2.4ZM378.72 190.7h2.4V200.1h-2.4ZM381.19 187.8h2.4V192.3h-2.4ZM383.65 182.1h2.4V189.4h-2.4ZM386.11 182.1h2.4V185.3h-2.4ZM388.58 172.0h2.4V185.3h-2.4ZM391.04 172.0h2.4V180.1h-2.4ZM393.51 178.5h2.4V190.3h-2.4ZM395.97 184.8h2.4V190.3h-2.4ZM398.44 178.8h2.4V186.4h-2.4ZM400.90 178.8h2.4V184.2h-2.4ZM403.37 181.2h2.4V184.2h-2.4ZM405.83 180.8h2.4V183.2h-2.4ZM408.30 181.2h2.4V184.9h-2.4ZM410.76 183.3h2.4V194.7h-2.4ZM413.22 192.4h2.4V194.8h-2.4ZM415.69 192.4h2.4V200.1h-2.4ZM418.15 198.5h2.4V203.1h-2.4ZM420.62 190.3h2.4V203.1h-2.4ZM423.08 187.9h2.4V191.9h-2.4ZM425.55 187.6h2.4V190.0h-2.4ZM428.01 182.7h2.4V189.7h-2.4ZM430.48 179.1h2.4V184.3h-2.4ZM432.94 178.7h2.4V181.1h-2.4ZM435.40 178.8h2.4V181.2h-2.4ZM437.87 178.5h2.4V180.9h-2.4ZM440.33 178.5h2.4V185.8h-2.4ZM442.80 180.9h2.4V185.8h-2.4ZM445.26 178.2h2.4V182.5h-2.4ZM447.73 178.2h2.4V183.1h-2.4ZM450.19 181.5h2.4V189.1h-2.4ZM452.66 181.2h2.4V189.1h-2.4ZM455.12 180.8h2.4V183.2h-2.4ZM457.58 176.1h2.4V182.8h-2.4ZM460.05 175.5h2.4V177.9h-2.4ZM462.51 175.3h2.4V177.7h-2.4ZM464.98 164.8h2.4V177.5h-2.4ZM467.44 164.8h2.4V168.4h-2.4ZM469.91 166.0h2.4V168.4h-2.4ZM472.37 166.0h2.4V173.0h-2.4ZM474.84 171.4h2.4V177.2h-2.4ZM477.30 175.6h2.4V188.5h-2.4ZM479.77 186.9h2.4V190.0h-2.4ZM482.23 186.0h2.4V190.0h-2.4ZM484.69 186.0h2.4V195.6h-2.4ZM487.16 194.0h2.4V201.9h-2.4ZM489.62 200.3h2.4V203.7h-2.4ZM492.09 202.1h2.4V206.6h-2.4ZM494.55 205.0h2.4V209.6h-2.4ZM497.02 193.4h2.4V209.6h-2.4ZM499.48 190.4h2.4V195.0h-2.4ZM501.95 190.3h2.4V192.7h-2.4ZM504.41 190.9h2.4V196.2h-2.4ZM506.88 182.3h2.4V196.2h-2.4ZM509.34 181.8h2.4V184.2h-2.4ZM511.80 182.1h2.4V187.3h-2.4ZM514.27 183.9h2.4V187.3h-2.4ZM516.73 183.9h2.4V197.1h-2.4ZM519.20 183.3h2.4V197.1h-2.4ZM521.66 183.3h2.4V187.9h-2.4ZM524.13 183.4h2.4V187.9h-2.4ZM526.59 179.1h2.4V185.0h-2.4ZM529.06 179.1h2.4V182.4h-2.4ZM531.52 180.8h2.4V189.5h-2.4ZM533.98 185.4h2.4V189.5h-2.4ZM536.45 185.4h2.4V208.7h-2.4ZM538.91 206.2h2.4V208.7h-2.4ZM541.38 205.5h2.4V207.9h-2.4ZM543.84 205.6h2.4V216.6h-2.4ZM546.31 215.0h2.4V217.5h-2.4ZM548.77 215.9h2.4V226.3h-2.4ZM551.24 224.7h2.4V228.1h-2.4ZM553.70 226.5h2.4V245.7h-2.4ZM556.16 233.0h2.4V245.7h-2.4ZM558.63 233.0h2.4V244.8h-2.4ZM561.09 242.5h2.4V244.9h-2.4ZM563.56 242.6h2.4V252.4h-2.4ZM566.02 239.0h2.4V252.4h-2.4ZM568.49 239.0h2.4V241.5h-2.4ZM570.95 237.2h2.4V241.5h-2.4ZM573.42 237.2h2.4V241.3h-2.4ZM575.88 239.7h2.4V249.5h-2.4ZM578.35 247.9h2.4V252.8h-2.4ZM580.81 248.1h2.4V252.8h-2.4ZM583.27 243.2h2.4V249.7h-2.4ZM585.74 243.2h2.4V246.6h-2.4ZM588.20 242.4h2.4V246.6h-2.4ZM590.67 237.5h2.4V244.0h-2.4ZM593.13 237.5h2.4V246.1h-2.4ZM595.60 244.5h2.4V250.1h-2.4ZM598.06 247.6h2.4V250.1h-2.4ZM600.53 247.6h2.4V255.9h-2.4ZM602.99 254.2h2.4V256.6h-2.4ZM605.46 243.0h2.4V256.4h-2.4ZM607.92 243.0h2.4V246.6h-2.4ZM610.38 243.2h2.4V246.6h-2.4ZM612.85 243.2h2.4V250.0h-2.4ZM615.31 238.1h2.4V250.0h-2.4ZM617.78 234.5h2.4V239.7h-2.4ZM620.24 234.2h2.4V236.6h-2.4ZM622.71 234.7h2.4V241.6h-2.4ZM625.17 240.0h2.4V242.5h-2.4ZM627.64 240.9h2.4V249.2h-2.4ZM630.10 247.6h2.4V250.1h-2.4ZM632.56 248.0h2.4V250.4h-2.4ZM635.03 248.2h2.4V261.6h-2.4ZM637.49 257.5h2.4V261.6h-2.4ZM639.96 253.9h2.4V259.1h-2.4ZM642.42 251.1h2.4V255.5h-2.4ZM644.89 251.1h2.4V261.7h-2.4ZM647.35 258.4h2.4V261.7h-2.4ZM649.82 251.1h2.4V260.0h-2.4ZM652.28 251.0h2.4V253.4h-2.4ZM654.75 247.5h2.4V253.3h-2.4ZM657.21 247.5h2.4V251.5h-2.4ZM659.67 249.9h2.4V255.9h-2.4ZM662.14 253.3h2.4V255.9h-2.4ZM664.60 251.1h2.4V254.9h-2.4ZM667.07 249.1h2.4V252.7h-2.4ZM669.53 249.1h2.4V255.5h-2.4ZM672.00 252.4h2.4V255.5h-2.4ZM674.46 252.4h2.4V255.0h-2.4ZM676.93 253.4h2.4V258.0h-2.4ZM679.39 253.6h2.4V258.0h-2.4ZM681.85 253.6h2.4V256.1h-2.4ZM684.32 252.3h2.4V256.1h-2.4ZM686.78 252.3h2.4V257.3h-2.4ZM689.25 255.7h2.4V258.5h-2.4ZM691.71 256.3h2.4V258.7h-2.4ZM694.18 256.6h2.4V261.2h-2.4ZM696.64 259.6h2.4V262.3h-2.4ZM699.11 260.2h2.4V262.6h-2.4ZM701.57 259.6h2.4V262.0h-2.4ZM704.03 259.6h2.4V264.1h-2.4ZM706.50 262.5h2.4V267.1h-2.4ZM708.96 258.7h2.4V267.1h-2.4ZM711.43 258.0h2.4V260.4h-2.4ZM713.89 254.2h2.4V259.7h-2.4ZM716.36 252.1h2.4V255.8h-2.4ZM718.82 249.0h2.4V253.7h-2.4ZM721.29 243.2h2.4V250.6h-2.4ZM723.75 236.8h2.4V244.8h-2.4ZM726.22 235.1h2.4V238.4h-2.4ZM728.68 234.7h2.4V237.1h-2.4ZM731.14 228.6h2.4V236.7h-2.4ZM733.61 228.6h2.4V232.3h-2.4ZM736.07 230.7h2.4V237.0h-2.4ZM738.54 235.4h2.4V239.3h-2.4ZM741.00 237.7h2.4V242.2h-2.4ZM743.47 235.9h2.4V242.2h-2.4ZM745.93 232.4h2.4V237.5h-2.4ZM748.40 226.8h2.4V234.0h-2.4ZM750.86 221.4h2.4V228.4h-2.4ZM753.32 221.4h2.4V225.4h-2.4ZM755.79 216.4h2.4V225.4h-2.4ZM758.25 216.4h2.4V220.0h-2.4ZM760.72 218.1h2.4V220.5h-2.4ZM763.18 218.6h2.4V223.6h-2.4ZM765.65 211.9h2.4V223.6h-2.4ZM768.11 211.9h2.4V215.6h-2.4ZM770.58 213.7h2.4V216.1h-2.4ZM773.04 214.3h2.4V219.2h-2.4ZM775.51 217.6h2.4V222.7h-2.4ZM777.97 220.7h2.4V223.1h-2.4ZM780.43 215.2h2.4V222.7h-2.4ZM782.90 207.4h2.4V216.8h-2.4ZM785.36 207.4h2.4V210.2h-2.4ZM787.83 207.4h2.4V210.2h-2.4ZM790.29 206.7h2.4V209.1h-2.4ZM792.76 206.8h2.4V213.8h-2.4ZM795.22 208.3h2.4V213.8h-2.4ZM797.69 208.3h2.4V216.3h-2.4ZM800.15 208.2h2.4V216.3h-2.4ZM802.62 208.0h2.4V210.4h-2.4ZM805.08 208.4h2.4V210.8h-2.4ZM807.54 208.9h2.4V215.9h-2.4ZM810.01 213.7h2.4V216.1h-2.4ZM812.47 208.8h2.4V215.4h-2.4ZM814.94 207.4h2.4V210.4h-2.4ZM817.40 205.3h2.4V209.0h-2.4ZM819.87 205.0h2.4V207.4h-2.4ZM822.33 200.1h2.4V207.1h-2.4ZM824.80 197.4h2.4V201.7h-2.4ZM827.26 197.4h2.4V216.5h-2.4ZM829.72 214.9h2.4V218.6h-2.4ZM832.19 216.1h2.4V218.6h-2.4ZM834.65 216.1h2.4V222.3h-2.4ZM837.12 219.6h2.4V222.3h-2.4ZM839.58 217.1h2.4V221.2h-2.4ZM842.05 217.1h2.4V222.0h-2.4ZM844.51 214.0h2.4V222.0h-2.4ZM846.98 210.9h2.4V215.6h-2.4ZM849.44 210.9h2.4V213.6h-2.4ZM851.90 212.0h2.4V215.0h-2.4ZM854.37 210.4h2.4V215.0h-2.4ZM856.83 210.4h2.4V215.1h-2.4ZM859.30 213.5h2.4V227.8h-2.4ZM861.76 226.2h2.4V234.6h-2.4ZM864.23 224.6h2.4V234.6h-2.4ZM866.69 220.5h2.4V226.2h-2.4ZM869.16 220.5h2.4V228.2h-2.4ZM871.62 226.5h2.4V228.9h-2.4ZM874.09 225.6h2.4V228.7h-2.4ZM876.55 225.6h2.4V230.2h-2.4ZM879.01 228.6h2.4V233.7h-2.4ZM881.48 230.5h2.4V233.7h-2.4ZM883.94 223.8h2.4V232.1h-2.4ZM886.41 210.9h2.4V225.4h-2.4ZM888.87 210.9h2.4V213.8h-2.4ZM891.34 210.7h2.4V213.8h-2.4ZM893.80 208.0h2.4V212.3h-2.4ZM896.27 200.9h2.4V209.6h-2.4ZM898.73 189.4h2.4V202.5h-2.4ZM901.19 189.4h2.4V195.6h-2.4ZM903.66 193.4h2.4V195.8h-2.4ZM906.12 190.6h2.4V195.2h-2.4ZM908.59 190.6h2.4V193.0h-2.4ZM911.05 183.0h2.4V192.9h-2.4ZM913.52 183.0h2.4V189.1h-2.4ZM915.98 183.3h2.4V189.1h-2.4ZM918.45 183.0h2.4V185.4h-2.4ZM920.91 170.8h2.4V185.0h-2.4ZM923.38 170.8h2.4V174.5h-2.4ZM925.84 170.9h2.4V174.5h-2.4ZM928.30 169.6h2.4V172.5h-2.4ZM930.77 162.7h2.4V171.2h-2.4ZM933.23 157.7h2.4V164.3h-2.4ZM935.70 157.7h2.4V170.6h-2.4ZM938.16 169.0h2.4V175.1h-2.4ZM940.63 171.4h2.4V175.1h-2.4ZM943.09 171.4h2.4V174.5h-2.4ZM945.56 166.3h2.4V174.5h-2.4ZM948.02 166.3h2.4V176.1h-2.4ZM950.49 174.5h2.4V181.6h-2.4ZM952.95 173.8h2.4V181.6h-2.4ZM955.41 168.9h2.4V175.4h-2.4ZM957.88 168.9h2.4V171.5h-2.4ZM960.34 169.9h2.4V173.3h-2.4ZM962.81 171.7h2.4V174.2h-2.4ZM965.27 165.9h2.4V174.2h-2.4ZM967.74 165.9h2.4V168.4h-2.4ZM970.20 166.8h2.4V172.8h-2.4ZM972.67 171.2h2.4V174.2h-2.4ZM975.13 171.1h2.4V174.2h-2.4ZM977.59 165.7h2.4V172.7h-2.4ZM980.06 153.1h2.4V167.3h-2.4ZM982.52 153.1h2.4V156.5h-2.4ZM984.99 154.9h2.4V162.6h-2.4ZM987.45 160.6h2.4V163.0h-2.4ZM989.92 161.0h2.4V164.8h-2.4ZM992.38 162.4h2.4V164.8h-2.4ZM994.85 159.2h2.4V164.0h-2.4ZM997.31 159.2h2.4V166.4h-2.4ZM999.77 164.8h2.4V176.7h-2.4ZM1002.24 174.4h2.4V176.8h-2.4ZM1004.70 174.5h2.4V186.4h-2.4ZM1007.17 181.2h2.4V186.4h-2.4ZM1009.63 176.4h2.4V182.8h-2.4ZM1012.10 176.4h2.4V181.0h-2.4ZM1014.56 179.4h2.4V188.2h-2.4ZM1017.03 182.8h2.4V188.2h-2.4ZM1019.49 182.8h2.4V185.6h-2.4Z" fill="#0a0a0a"/>
<path d="M101.03 305.3h0.8V307.6h-0.8ZM103.50 302.5h0.8V305.3h-0.8ZM105.96 301.9h0.8V302.7h-0.8ZM108.43 301.7h0.8V302.5h-0.8ZM110.89 299.5h0.8V302.1h-0.8ZM113.35 299.0h0.8V299.8h-0.8ZM120.75 298.0h0.8V300.4h-0.8ZM130.61 302.3h0.8V304.1h-0.8ZM133.07 300.9h0.8V302.3h-0.8ZM135.54 296.4h0.8V300.9h-0.8ZM140.46 297.9h0.8V299.1h-0.8ZM142.93 297.1h0.8V297.9h-0.8ZM147.86 298.0h0.8V299.5h-0.8ZM150.32 297.3h0.8V298.1h-0.8ZM157.72 299.8h0.8V300.6h-0.8ZM165.11 299.1h0.8V301.3h-0.8ZM167.57 298.0h0.8V299.1h-0.8ZM170.04 297.5h0.8V298.3h-0.8ZM172.50 297.1h0.8V297.9h-0.8ZM174.97 291.6h0.8V297.3h-0.8ZM177.43 287.2h0.8V291.6h-0.8ZM179.90 286.3h0.8V287.2h-0.8ZM182.36 284.0h0.8V286.3h-0.8ZM189.75 284.2h0.8V287.5h-0.8ZM194.68 284.5h0.8V285.8h-0.8ZM197.15 281.5h0.8V284.5h-0.8ZM199.61 276.3h0.8V281.5h-0.8ZM204.54 274.5h0.8V276.9h-0.8ZM207.01 273.6h0.8V274.5h-0.8ZM209.47 269.1h0.8V273.6h-0.8ZM211.94 268.6h0.8V269.4h-0.8ZM214.40 267.6h0.8V268.8h-0.8ZM216.86 259.2h0.8V267.6h-0.8ZM219.33 256.8h0.8V259.2h-0.8ZM224.26 253.8h0.8V259.8h-0.8ZM226.72 245.5h0.8V253.8h-0.8ZM229.19 237.6h0.8V245.5h-0.8ZM231.65 234.1h0.8V237.6h-0.8ZM243.97 243.7h0.8V253.8h-0.8ZM246.44 238.5h0.8V243.7h-0.8ZM256.30 246.1h0.8V248.4h-0.8ZM266.15 256.8h0.8V263.3h-0.8ZM271.08 258.8h0.8V259.6h-0.8ZM273.55 258.6h0.8V259.4h-0.8ZM276.01 258.2h0.8V259.0h-0.8ZM280.94 255.6h0.8V264.5h-0.8ZM283.41 252.9h0.8V255.6h-0.8ZM285.87 252.5h0.8V253.3h-0.8ZM290.80 255.3h0.8V256.5h-0.8ZM293.26 249.3h0.8V255.3h-0.8ZM295.73 243.1h0.8V249.3h-0.8ZM300.66 241.0h0.8V245.0h-0.8ZM303.12 238.2h0.8V241.0h-0.8ZM308.05 216.9h0.8V239.4h-0.8ZM310.52 216.3h0.8V217.1h-0.8ZM315.44 212.2h0.8V221.5h-0.8ZM322.84 210.0h0.8V214.5h-0.8ZM327.77 208.7h0.8V212.2h-0.8ZM330.23 199.9h0.8V208.7h-0.8ZM335.16 188.6h0.8V201.4h-0.8ZM337.62 188.2h0.8V189.0h-0.8ZM340.09 183.8h0.8V188.6h-0.8ZM347.48 207.0h0.8V209.4h-0.8ZM359.81 207.3h0.8V220.4h-0.8ZM364.73 204.9h0.8V210.9h-0.8ZM369.66 209.7h0.8V210.9h-0.8ZM372.13 209.2h0.8V210.0h-0.8ZM374.59 203.2h0.8V209.4h-0.8ZM377.06 199.3h0.8V203.2h-0.8ZM379.52 191.5h0.8V199.3h-0.8ZM381.99 188.6h0.8V191.5h-0.8ZM384.45 182.9h0.8V188.6h-0.8ZM389.38 172.8h0.8V184.5h-0.8ZM396.77 185.6h0.8V189.5h-0.8ZM399.24 179.6h0.8V185.6h-0.8ZM404.17 182.0h0.8V183.4h-0.8ZM406.63 181.6h0.8V182.4h-0.8ZM414.02 193.2h0.8V194.0h-0.8ZM421.42 191.1h0.8V202.3h-0.8ZM423.88 188.7h0.8V191.1h-0.8ZM428.81 183.5h0.8V188.9h-0.8ZM431.28 179.9h0.8V183.5h-0.8ZM433.74 179.5h0.8V180.3h-0.8ZM438.67 179.3h0.8V180.1h-0.8ZM443.60 181.7h0.8V185.0h-0.8ZM446.06 179.0h0.8V181.7h-0.8ZM453.46 182.0h0.8V188.3h-0.8ZM455.92 181.6h0.8V182.4h-0.8ZM458.38 176.9h0.8V182.0h-0.8ZM460.85 176.3h0.8V177.1h-0.8ZM465.78 165.6h0.8V176.7h-0.8ZM470.71 166.8h0.8V167.6h-0.8ZM483.03 186.8h0.8V189.2h-0.8ZM497.82 194.2h0.8V208.8h-0.8ZM500.28 191.2h0.8V194.2h-0.8ZM507.68 183.1h0.8V195.4h-0.8ZM510.14 182.6h0.8V183.4h-0.8ZM515.07 184.7h0.8V186.5h-0.8ZM520.00 184.1h0.8V196.3h-0.8ZM524.93 184.2h0.8V187.1h-0.8ZM527.39 179.9h0.8V184.2h-0.8ZM534.78 186.2h0.8V188.7h-0.8ZM539.71 207.0h0.8V207.9h-0.8ZM542.18 206.3h0.8V207.1h-0.8ZM556.97 233.8h0.8V244.9h-0.8ZM561.89 243.3h0.8V244.1h-0.8ZM566.82 239.8h0.8V251.6h-0.8ZM571.75 238.0h0.8V240.7h-0.8ZM581.61 248.9h0.8V252.0h-0.8ZM584.07 244.0h0.8V248.9h-0.8ZM589.00 243.2h0.8V245.8h-0.8ZM591.47 238.3h0.8V243.2h-0.8ZM598.86 248.4h0.8V249.3h-0.8ZM606.26 243.8h0.8V255.6h-0.8ZM611.18 244.0h0.8V245.8h-0.8ZM616.11 238.9h0.8V249.2h-0.8ZM618.58 235.3h0.8V238.9h-0.8ZM633.36 248.8h0.8V249.6h-0.8ZM638.29 258.3h0.8V260.8h-0.8ZM640.76 254.7h0.8V258.3h-0.8ZM643.22 251.9h0.8V254.7h-0.8ZM648.15 259.2h0.8V260.9h-0.8ZM650.62 251.9h0.8V259.2h-0.8ZM655.55 248.3h0.8V252.5h-0.8ZM662.94 254.1h0.8V255.1h-0.8ZM665.40 251.9h0.8V254.1h-0.8ZM667.87 249.9h0.8V251.9h-0.8ZM672.80 253.2h0.8V254.7h-0.8ZM680.19 254.4h0.8V257.2h-0.8ZM685.12 253.1h0.8V255.3h-0.8ZM692.51 257.1h0.8V257.9h-0.8ZM699.91 261.0h0.8V261.8h-0.8ZM702.37 260.4h0.8V261.2h-0.8ZM709.76 259.5h0.8V266.3h-0.8ZM712.23 258.8h0.8V259.6h-0.8ZM714.69 255.0h0.8V258.9h-0.8ZM717.16 252.9h0.8V255.0h-0.8ZM719.62 249.8h0.8V252.9h-0.8ZM722.09 244.0h0.8V249.8h-0.8ZM724.55 237.6h0.8V244.0h-0.8ZM727.02 235.9h0.8V237.6h-0.8ZM729.48 235.5h0.8V236.3h-0.8ZM731.94 229.4h0.8V235.9h-0.8ZM744.27 236.7h0.8V241.4h-0.8ZM746.73 233.2h0.8V236.7h-0.8ZM749.20 227.6h0.8V233.2h-0.8ZM751.66 222.2h0.8V227.6h-0.8ZM756.59 217.2h0.8V224.6h-0.8ZM766.45 212.7h0.8V222.8h-0.8ZM778.77 221.5h0.8V222.3h-0.8ZM781.23 216.0h0.8V221.9h-0.8ZM783.70 208.2h0.8V216.0h-0.8ZM788.63 208.2h0.8V209.4h-0.8ZM791.09 207.5h0.8V208.3h-0.8ZM796.02 209.1h0.8V213.0h-0.8ZM800.95 209.0h0.8V215.5h-0.8ZM810.81 214.5h0.8V215.3h-0.8ZM813.27 209.6h0.8V214.6h-0.8ZM815.74 208.2h0.8V209.6h-0.8ZM818.20 206.1h0.8V208.2h-0.8ZM823.13 200.9h0.8V206.3h-0.8ZM825.60 198.2h0.8V200.9h-0.8ZM832.99 216.9h0.8V217.8h-0.8ZM837.92 220.4h0.8V221.5h-0.8ZM840.38 217.9h0.8V220.4h-0.8ZM845.31 214.8h0.8V221.2h-0.8ZM847.78 211.7h0.8V214.8h-0.8ZM855.17 211.2h0.8V214.2h-0.8ZM865.03 225.4h0.8V233.8h-0.8ZM867.49 221.3h0.8V225.4h-0.8ZM874.89 226.4h0.8V227.9h-0.8ZM882.28 231.3h0.8V232.9h-0.8ZM884.74 224.6h0.8V231.3h-0.8ZM887.21 211.7h0.8V224.6h-0.8ZM892.14 211.5h0.8V213.0h-0.8ZM894.60 208.8h0.8V211.5h-0.8ZM897.07 201.7h0.8V208.8h-0.8ZM899.53 190.2h0.8V201.7h-0.8ZM904.46 194.2h0.8V195.0h-0.8ZM906.92 191.4h0.8V194.4h-0.8ZM911.85 183.8h0.8V192.1h-0.8ZM916.78 184.1h0.8V188.3h-0.8ZM921.71 171.6h0.8V184.2h-0.8ZM926.64 171.7h0.8V173.7h-0.8ZM929.10 170.4h0.8V171.7h-0.8ZM931.57 163.5h0.8V170.4h-0.8ZM934.03 158.5h0.8V163.5h-0.8ZM941.43 172.2h0.8V174.3h-0.8ZM946.36 167.1h0.8V173.7h-0.8ZM953.75 174.6h0.8V180.8h-0.8ZM956.21 169.7h0.8V174.6h-0.8ZM966.07 166.7h0.8V173.4h-0.8ZM975.93 171.9h0.8V173.4h-0.8ZM978.39 166.5h0.8V171.9h-0.8ZM980.86 153.9h0.8V166.5h-0.8ZM988.25 161.4h0.8V162.2h-0.8ZM993.18 163.2h0.8V164.0h-0.8ZM995.65 160.0h0.8V163.2h-0.8ZM1003.04 175.2h0.8V176.0h-0.8ZM1007.97 182.0h0.8V185.6h-0.8ZM1010.43 177.2h0.8V182.0h-0.8ZM1017.83 183.6h0.8V187.4h-0.8Z" fill="#5f9f7e"/>
<path d="M93.64 306.1h0.8V306.9h-0.8ZM96.10 306.4h0.8V307.2h-0.8ZM98.57 306.9h0.8V307.7h-0.8ZM115.82 299.4h0.8V300.3h-0.8ZM118.28 299.9h0.8V300.7h-0.8ZM123.21 298.0h0.8V299.4h-0.8ZM125.68 299.4h0.8V304.0h-0.8ZM128.14 303.7h0.8V304.5h-0.8ZM138.00 296.4h0.8V299.1h-0.8ZM145.39 297.1h0.8V299.5h-0.8ZM152.79 297.3h0.8V298.1h-0.8ZM155.25 297.9h0.8V300.6h-0.8ZM160.18 299.8h0.8V300.7h-0.8ZM162.65 300.6h0.8V301.4h-0.8ZM184.83 284.0h0.8V285.2h-0.8ZM187.29 285.2h0.8V287.5h-0.8ZM192.22 284.2h0.8V285.8h-0.8ZM202.08 276.2h0.8V277.0h-0.8ZM221.79 256.8h0.8V259.8h-0.8ZM234.12 234.1h0.8V235.2h-0.8ZM236.58 235.2h0.8V241.3h-0.8ZM239.04 241.3h0.8V249.3h-0.8ZM241.51 249.3h0.8V253.8h-0.8ZM248.90 238.5h0.8V245.5h-0.8ZM251.37 245.5h0.8V247.8h-0.8ZM253.83 247.7h0.8V248.5h-0.8ZM258.76 246.1h0.8V248.1h-0.8ZM261.23 248.1h0.8V249.3h-0.8ZM263.69 249.3h0.8V263.3h-0.8ZM268.62 256.8h0.8V259.5h-0.8ZM278.48 258.3h0.8V264.5h-0.8ZM288.33 252.9h0.8V256.5h-0.8ZM298.19 243.1h0.8V245.0h-0.8ZM305.59 238.2h0.8V239.4h-0.8ZM312.98 216.6h0.8V221.5h-0.8ZM317.91 212.2h0.8V213.9h-0.8ZM320.37 213.8h0.8V214.6h-0.8ZM325.30 210.0h0.8V212.2h-0.8ZM332.70 199.9h0.8V201.4h-0.8ZM342.55 183.8h0.8V193.9h-0.8ZM345.02 193.9h0.8V209.4h-0.8ZM349.95 207.0h0.8V214.8h-0.8ZM352.41 214.8h0.8V217.2h-0.8ZM354.88 217.0h0.8V217.8h-0.8ZM357.34 217.6h0.8V220.4h-0.8ZM362.27 207.3h0.8V210.9h-0.8ZM367.20 204.9h0.8V210.9h-0.8ZM386.91 182.9h0.8V184.5h-0.8ZM391.84 172.8h0.8V179.3h-0.8ZM394.31 179.3h0.8V189.5h-0.8ZM401.70 179.6h0.8V183.4h-0.8ZM409.10 182.0h0.8V184.1h-0.8ZM411.56 184.1h0.8V193.9h-0.8ZM416.49 193.2h0.8V199.3h-0.8ZM418.95 199.3h0.8V202.3h-0.8ZM426.35 188.4h0.8V189.2h-0.8ZM436.20 179.6h0.8V180.4h-0.8ZM441.13 179.3h0.8V185.0h-0.8ZM448.53 179.0h0.8V182.3h-0.8ZM450.99 182.3h0.8V188.3h-0.8ZM463.31 176.1h0.8V176.9h-0.8ZM468.24 165.6h0.8V167.6h-0.8ZM473.17 166.8h0.8V172.2h-0.8ZM475.64 172.2h0.8V176.4h-0.8ZM478.10 176.4h0.8V187.7h-0.8ZM480.57 187.7h0.8V189.2h-0.8ZM485.49 186.8h0.8V194.8h-0.8ZM487.96 194.8h0.8V201.1h-0.8ZM490.42 201.1h0.8V202.9h-0.8ZM492.89 202.9h0.8V205.8h-0.8ZM495.35 205.8h0.8V208.8h-0.8ZM502.75 191.1h0.8V191.9h-0.8ZM505.21 191.7h0.8V195.4h-0.8ZM512.60 182.9h0.8V186.5h-0.8ZM517.53 184.7h0.8V196.3h-0.8ZM522.46 184.1h0.8V187.1h-0.8ZM529.86 179.9h0.8V181.6h-0.8ZM532.32 181.6h0.8V188.7h-0.8ZM537.25 186.2h0.8V207.9h-0.8ZM544.64 206.4h0.8V215.8h-0.8ZM547.11 215.8h0.8V216.7h-0.8ZM549.57 216.7h0.8V225.5h-0.8ZM552.04 225.5h0.8V227.3h-0.8ZM554.50 227.3h0.8V244.9h-0.8ZM559.43 233.8h0.8V244.0h-0.8ZM564.36 243.4h0.8V251.6h-0.8ZM569.29 239.8h0.8V240.7h-0.8ZM574.22 238.0h0.8V240.5h-0.8ZM576.68 240.5h0.8V248.7h-0.8ZM579.15 248.7h0.8V252.0h-0.8ZM586.54 244.0h0.8V245.8h-0.8ZM593.93 238.3h0.8V245.3h-0.8ZM596.40 245.3h0.8V249.3h-0.8ZM601.33 248.4h0.8V255.1h-0.8ZM603.79 255.0h0.8V255.8h-0.8ZM608.72 243.8h0.8V245.8h-0.8ZM613.65 244.0h0.8V249.2h-0.8ZM621.04 235.0h0.8V235.8h-0.8ZM623.51 235.5h0.8V240.8h-0.8ZM625.97 240.8h0.8V241.7h-0.8ZM628.44 241.7h0.8V248.4h-0.8ZM630.90 248.4h0.8V249.3h-0.8ZM635.83 249.0h0.8V260.8h-0.8ZM645.69 251.9h0.8V260.9h-0.8ZM653.08 251.8h0.8V252.6h-0.8ZM658.01 248.3h0.8V250.7h-0.8ZM660.47 250.7h0.8V255.1h-0.8ZM670.33 249.9h0.8V254.7h-0.8ZM675.26 253.2h0.8V254.2h-0.8ZM677.73 254.2h0.8V257.2h-0.8ZM682.65 254.4h0.8V255.3h-0.8ZM687.58 253.1h0.8V256.5h-0.8ZM690.05 256.5h0.8V257.7h-0.8ZM694.98 257.4h0.8V260.4h-0.8ZM697.44 260.4h0.8V261.5h-0.8ZM704.84 260.4h0.8V263.3h-0.8ZM707.30 263.3h0.8V266.3h-0.8ZM734.41 229.4h0.8V231.5h-0.8ZM736.87 231.5h0.8V236.2h-0.8ZM739.34 236.2h0.8V238.5h-0.8ZM741.80 238.5h0.8V241.4h-0.8ZM754.12 222.2h0.8V224.6h-0.8ZM759.05 217.2h0.8V219.2h-0.8ZM761.52 218.9h0.8V219.7h-0.8ZM763.98 219.4h0.8V222.8h-0.8ZM768.91 212.7h0.8V214.8h-0.8ZM771.38 214.5h0.8V215.3h-0.8ZM773.84 215.1h0.8V218.4h-0.8ZM776.31 218.4h0.8V221.9h-0.8ZM786.16 208.2h0.8V209.4h-0.8ZM793.56 207.6h0.8V213.0h-0.8ZM798.49 209.1h0.8V215.5h-0.8ZM803.42 208.8h0.8V209.6h-0.8ZM805.88 209.2h0.8V210.0h-0.8ZM808.34 209.7h0.8V215.1h-0.8ZM820.67 205.8h0.8V206.6h-0.8ZM828.06 198.2h0.8V215.7h-0.8ZM830.52 215.7h0.8V217.8h-0.8ZM835.45 216.9h0.8V221.5h-0.8ZM842.85 217.9h0.8V221.2h-0.8ZM850.24 211.7h0.8V212.8h-0.8ZM852.71 212.8h0.8V214.2h-0.8ZM857.63 211.2h0.8V214.3h-0.8ZM860.10 214.3h0.8V227.0h-0.8ZM862.56 227.0h0.8V233.8h-0.8ZM869.96 221.3h0.8V227.4h-0.8ZM872.42 227.3h0.8V228.1h-0.8ZM877.35 226.4h0.8V229.4h-0.8ZM879.81 229.4h0.8V232.9h-0.8ZM889.67 211.7h0.8V213.0h-0.8ZM902.00 190.2h0.8V194.8h-0.8ZM909.39 191.4h0.8V192.2h-0.8ZM914.32 183.8h0.8V188.3h-0.8ZM919.25 183.8h0.8V184.6h-0.8ZM924.18 171.6h0.8V173.7h-0.8ZM936.50 158.5h0.8V169.8h-0.8ZM938.96 169.8h0.8V174.3h-0.8ZM943.89 172.2h0.8V173.7h-0.8ZM948.82 167.1h0.8V175.3h-0.8ZM951.29 175.3h0.8V180.8h-0.8ZM958.68 169.7h0.8V170.7h-0.8ZM961.14 170.7h0.8V172.5h-0.8ZM963.61 172.5h0.8V173.4h-0.8ZM968.54 166.7h0.8V167.6h-0.8ZM971.00 167.6h0.8V172.0h-0.8ZM973.47 172.0h0.8V173.4h-0.8ZM983.32 153.9h0.8V155.7h-0.8ZM985.79 155.7h0.8V161.8h-0.8ZM990.72 161.8h0.8V164.0h-0.8ZM998.11 160.0h0.8V165.6h-0.8ZM1000.58 165.6h0.8V175.9h-0.8ZM1005.50 175.3h0.8V185.6h-0.8ZM1012.90 177.2h0.8V180.2h-0.8ZM1015.36 180.2h0.8V187.4h-0.8ZM1020.29 183.6h0.8V184.8h-0.8Z" fill="#e2563b"/>
<path d="M594.5 261.3 Q 637 289.5 678.6 259.3" stroke="#3c3c3c" stroke-width="1.25" fill="none" stroke-dasharray="5.2 5"/>
<path d="M747.2 251.4 C 765 265, 796 258, 811.3 229.3" stroke="#3c3c3c" stroke-width="1.25" fill="none" stroke-dasharray="5.2 5"/>
<path d="M804.2 230.6 L811.3 229.3 L813.4 236.3" stroke="#3c3c3c" stroke-width="1.25" stroke-dasharray="4 1.2" fill="none"/>
<path d="M858.2 244.9 C 876 258.5, 907 251.5, 922.6 222.8" stroke="#3c3c3c" stroke-width="1.25" fill="none" stroke-dasharray="5.2 5"/>
<path d="M915.5 224.1 L922.6 222.8 L924.7 229.8" stroke="#3c3c3c" stroke-width="1.25" stroke-dasharray="4 1.2" fill="none"/>
<path d="M966.1 206 C 978 240, 1009 236, 1033.4 189.4" stroke="#3c3c3c" stroke-width="1.25" fill="none" stroke-dasharray="5.2 5"/>
<path d="M1026.2 190.9 L1033.4 189.4 L1035.2 196.4" stroke="#3c3c3c" stroke-width="1.25" stroke-dasharray="4 1.2" fill="none"/>
<ellipse cx="1072.4" cy="191.2" rx="9" ry="17.2" fill="#8b8b8b"/>
<text x="1072.4" y="198.1" font-size="19" fill="#ffffff" text-anchor="middle" font-weight="bold" transform="translate(1072.4 191.2) scale(0.92 1.7) translate(-1072.4 -191.2)">?</text>
<path d="M93.5 449.2 H1214.5" stroke="#2f9bef" stroke-width="1" stroke-dasharray="1.2 1.2" fill="none"/>
<path d="M94.3 429.1 L96.8 455.1 L99.2 456.1 L101.8 428.4 L104.2 426.6 L106.6 421.8 L109.1 430.1 L111.7 427.9 L114.1 450.9 L116.5 446.9 L118.9 427.0 L121.4 407.9 L124.0 430.5 L126.4 392.3 L128.8 408.8 L131.2 445.7 L133.7 446.4 L136.3 414.5 L138.7 413.5 L141.1 436.0 L143.7 434.8 L146.2 414.0 L148.6 453.9 L151.0 459.6 L153.4 440.0 L155.9 430.5 L158.5 418.3 L160.9 435.3 L163.3 435.3 L165.7 443.5 L168.3 450.9 L170.8 443.5 L173.2 427.0 L175.6 385.4 L178.0 399.3 L180.5 416.6 L183.1 441.7 L185.5 454.7 L187.9 430.5 L190.5 411.4 L192.9 406.2 L195.4 427.0 L197.8 447.8 L200.2 445.7 L202.8 426.6 L205.3 425.3 L207.7 420.1 L210.1 420.4 L212.5 397.5 L215.1 424.4 L217.6 383.3 L220.0 429.1 L222.4 402.7 L224.8 420.9 L227.4 399.3 L229.9 390.3 L232.3 407.9 L234.7 435.7 L237.3 445.2 L239.7 397.5 L242.2 407.9 L244.6 426.1 L247.0 423.5 L249.4 410.5 L252.0 449.5 L254.5 445.7 L256.9 445.2 L259.3 427.0 L261.8 426.1 L264.2 412.3 L266.8 413.5 L269.2 447.8 L271.6 456.1 L274.1 433.1 L276.5 427.9 L278.9 393.2 L282.1 407.9 L284.3 386.8 L286.9 437.4 L289.5 433.9 L291.8 426.1 L294.2 431.3 L296.6 418.3 L299.1 412.3 L301.7 408.8 L304.1 443.5 L306.5 437.4 L308.9 408.8 L311.4 407.6 L314.0 424.4 L316.4 432.2 L318.8 432.5 L321.2 443.5 L323.7 451.3 L326.3 433.1 L328.7 437.4 L331.1 420.9 L333.6 432.2 L336.0 421.8 L338.6 426.1 L341.0 447.8 L343.4 405.8 L345.9 406.2 L348.5 413.1 L350.9 411.4 L353.3 419.2 L355.7 448.7 L358.3 445.2 L360.8 421.8 L363.2 432.2 L365.6 434.8 L368.0 437.4 L370.5 425.3 L373.1 453.9 L375.5 450.4 L377.9 419.2 L380.5 433.6 L382.9 433.1 L385.4 440.9 L387.8 435.7 L390.2 443.5 L392.8 453.0 L395.3 417.5 L397.7 433.9 L400.1 437.4 L402.5 438.3 L405.1 444.3 L407.6 449.9 L410.0 451.3 L412.4 432.2 L414.8 407.1 L417.4 438.3 L419.9 414.9 L422.3 425.3 L424.7 451.3 L427.3 460.8 L429.7 423.5 L432.2 440.9 L434.6 434.8 L437.0 429.6 L439.4 440.9 L442.0 450.9 L444.5 448.7 L446.9 433.9 L449.3 420.4 L451.8 426.1 L454.2 439.5 L456.8 441.7 L459.2 449.5 L461.6 446.1 L464.1 437.4 L466.5 430.1 L468.9 430.8 L471.5 433.6 L473.9 426.1 L476.4 448.7 L478.7 402.4 L481.1 441.7 L483.5 408.8 L486.1 428.7 L488.5 415.7 L491.1 411.7 L493.6 447.4 L496.0 448.1 L498.4 427.3 L500.8 431.3 L503.3 445.2 L505.9 443.5 L508.3 421.8 L510.7 452.1 L513.3 460.3 L515.8 428.7 L518.2 440.0 L520.6 430.5 L523.0 429.6 L525.5 419.2 L528.1 447.8 L530.5 448.7 L532.9 420.1 L535.3 429.6 L537.8 423.5 L540.2 388.9 L542.8 420.1 L545.2 453.0 L547.6 432.2 L550.1 390.6 L551.5 411.7 L553.5 411.7 L555.1 344.2 L557.5 386.3 L560.1 389.7 L562.7 433.9 L565.0 413.1 L567.4 388.0 L570.0 418.3 L572.4 425.3 L574.9 438.3 L577.5 407.9 L579.9 437.4 L582.3 453.0 L584.7 441.7 L587.2 446.1 L589.6 438.8 L592.2 439.5 L594.6 437.4 L597.0 451.3 L599.6 452.1 L602.1 433.1 L604.5 418.3 L606.9 421.4 L609.5 439.1 L611.9 447.8 L614.4 455.6 L617.0 455.6 L619.4 439.1 L621.8 442.6 L624.2 442.2 L626.7 435.7 L629.3 434.8 L631.7 447.8 L634.1 455.1 L636.6 414.0 L639.0 414.0 L641.6 433.9 L644.0 443.5 L646.4 418.7 L648.9 444.3 L651.3 456.5 L653.7 440.9 L656.1 448.7 L658.6 441.7 L661.2 443.5 L663.6 445.7 L666.0 460.8 L668.7 461.7 L671.1 452.1 L673.5 447.8 L676.1 443.5 L678.5 440.0 L681.0 453.0 L683.4 464.3 L686.0 459.1 L688.4 446.1 L690.8 445.7 L693.3 448.7 L695.7 439.1 L698.1 443.5 L700.6 446.9 L703.2 463.4 L705.6 444.3 L708.0 436.0 L710.4 442.6 L712.9 447.8 L715.5 449.5 L717.9 459.1 L720.3 455.6 L722.7 416.6 L725.2 412.3 L727.6 378.5 L730.0 433.9 L732.4 439.1 L734.9 459.1 L737.3 459.6 L739.9 449.5 L742.3 443.5 L744.7 433.9 L747.2 441.7 L749.8 421.8 L752.2 453.0 L754.6 449.5 L757.1 430.5 L759.7 443.5 L762.1 453.0 L764.5 451.3 L766.9 450.4 L769.4 457.3 L772.0 457.3 L774.4 452.1 L776.8 455.6 L779.2 446.4 L781.7 451.3 L784.3 424.4 L786.7 434.8 L789.1 466.9 L791.5 446.9 L794.0 451.3 L796.6 421.8 L799.0 453.9 L801.4 452.1 L803.8 462.0 L806.4 459.9 L808.9 450.4 L811.3 442.9 L813.7 443.5 L816.2 428.7 L818.8 436.5 L821.2 454.7 L823.6 462.5 L826.0 447.8 L828.5 426.1 L831.1 438.3 L833.5 440.9 L835.9 412.3 L838.3 456.5 L840.9 461.7 L843.4 438.3 L845.8 446.1 L848.2 446.9 L850.6 452.1 L853.2 453.9 L855.7 459.9 L858.1 460.8 L860.1 441.7 L862.5 448.7 L864.9 449.5 L867.3 448.7 L869.9 439.1 L872.4 462.5 L874.8 453.0 L877.4 448.7 L879.8 446.9 L882.2 449.5 L884.7 451.3 L887.1 445.2 L889.7 458.2 L892.1 458.2 L894.5 447.8 L897.0 441.7 L899.6 437.4 L902.0 440.9 L904.4 449.5 L906.8 459.9 L909.3 459.1 L911.9 444.3 L914.3 447.8 L916.7 445.2 L919.2 448.7 L921.6 425.3 L924.2 455.6 L926.6 457.3 L929.0 442.6 L931.5 441.7 L933.9 442.6 L936.5 410.5 L938.9 430.5 L941.3 458.2 L943.9 459.9 L946.4 449.5 L948.8 448.7 L951.2 443.5 L953.8 440.0 L956.2 442.6 L958.7 458.2 L961.1 456.5 L963.7 438.3 L966.1 440.0 L968.5 440.9 L971.0 446.9 L973.4 450.4 L976.0 459.1 L978.4 454.7 L980.8 441.7 L983.3 445.2 L985.7 448.7 L988.3 451.3 L990.7 450.4 L993.2 461.7 L995.6 465.1 L998.2 458.2 L1000.6 432.2 L1003.0 440.9 L1005.5 443.5 L1008.1 446.9 L1010.5 460.8 L1012.9 459.9 L1015.5 443.5 L1017.9 446.9 L1021.2 449.5" stroke="#2b95ea" stroke-width="2.8" fill="none" stroke-linejoin="round"/>
<text x="895.5" y="431.8" font-size="40.5" fill="#100e16" textLength="235.5" lengthAdjust="spacingAndGlyphs" stroke="#100e16" stroke-width="0.9" opacity="0.31">CryptoQuant</text>
<rect x="1000.4" y="64.5" width="2" height="449" fill="#000"/>
<text x="102.5" y="86.0" font-size="15.3" fill="#d2d2d2" textLength="140.1" lengthAdjust="spacingAndGlyphs" stroke="#d2d2d2" stroke-width="0.3">CryptoQuant:bitcoin</text>
<text x="244.3" y="86.0" font-size="15.3" fill="#d2d2d2" textLength="105.9" lengthAdjust="spacingAndGlyphs" stroke="#d2d2d2" stroke-width="0.3">/exchangeFlows</text>
<text x="352.0" y="86.0" font-size="15.3" fill="#d2d2d2" textLength="59.6" lengthAdjust="spacingAndGlyphs" stroke="#d2d2d2" stroke-width="0.3">/outflow</text>
<text x="413.4" y="86.0" font-size="15.3" fill="#d2d2d2" textLength="105.8" lengthAdjust="spacingAndGlyphs" stroke="#d2d2d2" stroke-width="0.3">/outflow_total</text>
<text x="519.9" y="86.0" font-size="15.3" fill="#d2d2d2" textLength="69.2" lengthAdjust="spacingAndGlyphs" stroke="#d2d2d2" stroke-width="0.3">?exchange</text>
<text x="590.9" y="86.0" font-size="15.3" fill="#d2d2d2" textLength="97.9" lengthAdjust="spacingAndGlyphs" stroke="#d2d2d2" stroke-width="0.3">=all_exchange</text>
<text x="702.8" y="86.0" font-size="15.3" fill="#d2d2d2" textLength="15.4" lengthAdjust="spacingAndGlyphs" stroke="#d2d2d2" stroke-width="0.3">1D</text>
<text x="730.6" y="86.0" font-size="15.3" fill="#d2d2d2" textLength="86.7" lengthAdjust="spacingAndGlyphs" stroke="#d2d2d2" stroke-width="0.3">CryptoQuant</text>
<text x="694.6" y="84.3" font-size="8.5" fill="#d2d2d2" text-anchor="middle" >•</text>
<text x="724.2" y="84.3" font-size="8.5" fill="#d2d2d2" text-anchor="middle" >•</text>
<rect x="103" y="95" width="18" height="18" rx="3" fill="#fff" stroke="#d5d8ea" stroke-width="1"/>
<path d="M108.4 102.4 L112 105.8 L115.6 102.4" stroke="#222" stroke-width="1.6" fill="none"/>
<text x="129.2" y="108.3" font-size="11.8" fill="#d2d2d2" textLength="185.0" lengthAdjust="spacingAndGlyphs" >BITCOIN/MARKETDATA/PRICEUSD/</text>
<text x="314.8" y="108.3" font-size="11.8" fill="#d2d2d2" textLength="86.0" lengthAdjust="spacingAndGlyphs" >PRICE_OHLCV?</text>
<text x="401.8" y="108.3" font-size="11.8" fill="#d2d2d2" textLength="70.5" lengthAdjust="spacingAndGlyphs" >EXCHANGE=</text>
<text x="474.9" y="108.3" font-size="11.8" fill="#d2d2d2" textLength="74.3" lengthAdjust="spacingAndGlyphs" >ALL_EXCHANGE</text>
<text x="549.9" y="108.3" font-size="11.8" fill="#d2d2d2" textLength="99.4" lengthAdjust="spacingAndGlyphs" >&amp;MARKET=SPOT</text>
<text x="650.3" y="108.3" font-size="11.8" fill="#d2d2d2" textLength="108.9" lengthAdjust="spacingAndGlyphs" >&amp;SYMBOL=BTC_USD,</text>
<text x="764.1" y="108.3" font-size="11.8" fill="#d2d2d2" textLength="80.4" lengthAdjust="spacingAndGlyphs" >CRYPTOQUANT</text>
<circle cx="843.5" cy="79.7" r="8" fill="#dcefeb"/><circle cx="843.5" cy="79.7" r="3.5" fill="#12998a"/>
<text x="868.4" y="86.3" font-size="12.2" fill="#2f9bef" textLength="159.0" lengthAdjust="spacingAndGlyphs" >30646.49 −2229.06 (−6.78%)</text>
<text x="857.0" y="108.3" font-size="12.2" fill="#dd4f3c" textLength="321.8" lengthAdjust="spacingAndGlyphs" >57563.33 57760.01 55870.34 57157.67 −403.50 (−0.70%)</text>
<rect x="34.7" y="177.6" width="58.6" height="15.2" fill="#d9503f"/>
<rect x="89.7" y="184.7" width="3.5" height="1" fill="#fff"/>
<text x="42.1" y="189.2" font-size="11" fill="#ffffff" font-weight="bold" textLength="43.3" lengthAdjust="spacingAndGlyphs" >57157.67</text>
<rect x="1214.6" y="441.2" width="59.1" height="15.5" fill="#2196f3"/>
<text x="1222.4" y="452.9" font-size="11" fill="#ffffff" font-weight="bold" textLength="43.3" lengthAdjust="spacingAndGlyphs" >30646.49</text>
<rect x="971" y="513.7" width="59" height="20" fill="#000"/>
<text x="1000.5" y="528.2" font-size="11.5" fill="#ffffff" text-anchor="middle" font-weight="bold" textLength="47.0" lengthAdjust="spacingAndGlyphs" >16 Nov '21</text>
<circle cx="116.4" cy="490" r="16" fill="#fff" stroke="#e2e2e2" stroke-width="1"/>
<path d="M108.5 495.7 a3.6 3.6 0 0 1 -0.6 -7 a5 5 0 0 1 9 -2.6 a4 4 0 0 1 6.6 3 a3.4 3.4 0 0 1 -0.5 6.6 z" fill="#2196f3"/>
<path d="M106.5 493 L112 487.6 L118.4 494 L122.6 489.6" stroke="#fff" stroke-width="1.3" fill="none"/>
<circle cx="60.3" cy="525.7" r="9.3" fill="#eef0f7"/>
<text x="60.3" y="529.6" font-size="11" fill="#ffffff" text-anchor="middle" font-weight="bold" >Z</text>
<circle cx="1248" cy="524" r="9.3" fill="#eef0f7"/>
<text x="1248.0" y="528.0" font-size="11" fill="#ffffff" text-anchor="middle" font-weight="bold" >A</text>
<rect x="0" y="537.4" width="1280" height="16.6" fill="#141417"/>
<rect x="0" y="551.5" width="23.5" height="2.5" fill="#55565c"/>
<text x="1047.6" y="561.6" font-size="13.5" fill="#c9c9cf" textLength="103.5" lengthAdjust="spacingAndGlyphs" >08:42:10 (UTC+3)</text>
<text x="1185.0" y="561.6" font-size="13.5" fill="#c9c9cf" >%</text>
<text x="1212.0" y="561.6" font-size="13.5" fill="#c9c9cf" >log</text>
<text x="1238.0" y="561.6" font-size="13.5" fill="#c9c9cf" >auto</text>
<g stroke="#c9c9cf" stroke-width="1.3" fill="none"><rect x="121.5" y="550" width="15.5" height="12" rx="2"/><path d="M125.5 548 v3 M133 548 v3"/><path d="M42 556.5 l5 -3.2 v6 z M70.5 556 a4 4 0 0 1 6 -2.4"/></g>
<circle cx="1247" cy="540" r="14.6" fill="#3b20b2"/>
<g stroke="#fff" stroke-width="2" fill="none"><circle cx="1245.3" cy="538" r="6.2"/><path d="M1250 542.8 L1254.6 547.6" stroke-linecap="round"/></g>
<path d="M1241.6 538.6 a4 3 0 0 0 7.4 0" stroke="#fff" stroke-width="1" fill="none"/>
<rect x="2" y="86.5" width="8.5" height="1.4" fill="#5a5cf0"/>
<g stroke="#b4b5bd" stroke-width="1.1" fill="none"><circle cx="-0.3" cy="122" r="1.8"/><path d="M-1 157 L4 151.5 M2.5 162.5 L9.5 156"/><rect x="-0.5" y="162.5" width="3" height="3"/><path d="M-1 185.5 H5 M6.5 187 V198 M-1 199.5 H5"/><circle cx="6.5" cy="184" r="1.8"/><circle cx="6.5" cy="200" r="1.8"/><path d="M-1 219.5 H4.5 V222 M-1 233.5 H1.5"/><path d="M-1 261 L4 255.5 L7 266 L1 262"/><circle cx="4.5" cy="254" r="1.8"/><circle cx="7.5" cy="267.5" r="1.8"/><path d="M-1 287.5 H9 M-1 298 H6"/><circle cx="8" cy="298" r="1.7"/><path d="M-1 305 H9"/><path d="M-1 373 L4.5 367.5 L10 373 L1.5 381.5 L-1 379"/><path d="M1.5 373.5 l1.2 1.2 M3.8 371 l1.2 1.2"/><circle cx="-0.5" cy="411" r="5.5"/><path d="M3.5 415 L7 419"/><path d="M-1 453 a6 6 0 0 1 6 6 v9 h-4 v-4"/><path d="M-1 488 l4 -3.5 l3 3"/><rect x="0.5" y="497" width="7.5" height="6.5" rx="1"/><path d="M2 497 v-3 a2.3 2.3 0 0 1 4.6 0"/><rect x="-2" y="528" width="8" height="10" rx="1.5"/><path d="M-1 521 l2 -1.5"/></g>
<circle cx="-1.2" cy="330.6" r="7.6" fill="#a9b2c3"/><circle cx="-1.2" cy="330.6" r="7.6" fill="none" stroke="#b69a85" stroke-width="1"/><path d="M-2.4 328 a2.3 2.3 0 1 1 2.6 3.3 v1.4" stroke="#1a1a22" stroke-width="2.2" fill="none"/>
<rect x="18.8" y="487" width="4.4" height="33" rx="2" fill="#0f0f12"/>
<path d="M23.2 503 l-2.2 3.3 l2.2 3.3" stroke="#9fb4d8" stroke-width="1" fill="none"/>
</svg>
</body></html>
